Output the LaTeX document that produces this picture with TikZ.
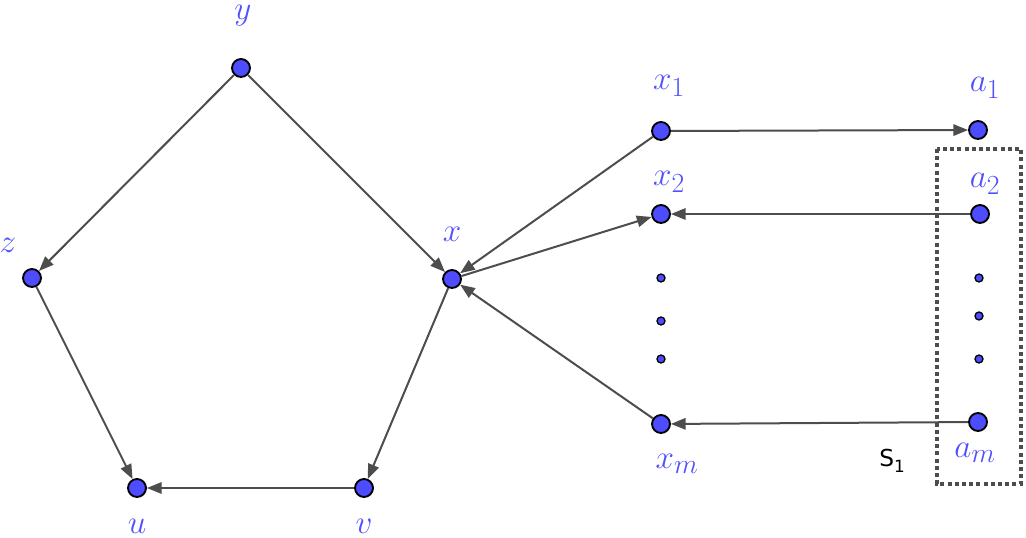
\documentclass[tikz,border=0pt]{standalone}
\usepackage{fontspec}
\newfontfamily\sonefont{DejaVu Sans}
\usetikzlibrary{arrows.meta}
\definecolor{vblue}{RGB}{77,77,255}
\definecolor{lblue}{RGB}{80,80,255}
\definecolor{edgegray}{RGB}{77,77,77}
\tikzset{
  vert/.style={circle,draw=black,fill=vblue,line width=1.4pt,minimum size=13.5pt,inner sep=0pt},
  smalldot/.style={circle,draw=black,fill=vblue,line width=1pt,minimum size=6pt,inner sep=0pt},
  lab/.style={text=lblue,font=\fontsize{24.88}{30}\selectfont,inner sep=0pt},
  edge/.style={draw=edgegray,line width=1.5pt,-{Triangle[length=11pt,width=8.5pt]}},
  box/.style={draw=edgegray,line width=3pt,dash pattern=on 3pt off 2.4pt}
}
\begin{document}
\begin{tikzpicture}[x=0.75pt,y=-0.75pt]
\useasboundingbox (0,0) rectangle (1026,538);
% dotted box
\draw[box] (937,149) rectangle (1021,484);
% vertices
\node[vert] (y) at (241,68) {};
\node[vert] (z) at (32,278) {};
\node[vert] (x) at (452,279) {};
\node[vert] (u) at (137,488) {};
\node[vert] (v) at (364,488) {};
\node[vert] (x1) at (661,131) {};
\node[vert] (x2) at (661,214) {};
\node[vert] (xm) at (661,424) {};
\node[vert] (a1) at (978,130) {};
\node[vert] (a2) at (980,214) {};
\node[vert] (am) at (978,422) {};
\node[smalldot] (d1) at (661,278) {};
\node[smalldot] (d2) at (661,321) {};
\node[smalldot] (d3) at (661,359) {};
\node[smalldot] (e1) at (979,278) {};
\node[smalldot] (e2) at (979,316) {};
\node[smalldot] (e3) at (979,359) {};
% labels
\node[lab] (ly) at (243,16) {$y$};
\node[lab] (lz) at (8,245) {$z$};
\node[lab] (lx) at (452,234) {$x$};
\node[lab] (lu) at (137,526) {$u$};
\node[lab] (lv) at (364,526) {$v$};
\node[lab] (lx1) at (669,86) {$x_1$};
\node[lab] (lx2) at (669,182) {$x_2$};
\node[lab] (lxm) at (677,464) {$x_m$};
\node[lab] (la1) at (985,88) {$a_1$};
\node[lab] (la2) at (985,184) {$a_2$};
\node[lab] (lam) at (975,453) {$a_m$};
\node[inner sep=0pt] (s1) at (892,461) {\scalebox{1.75}{\sonefont S\raisebox{-2.6pt}{\scalebox{0.72}{1}}}};
% edges
\draw[edge] (y) -- (z);
\draw[edge] (y) -- (x);
\draw[edge] (z) -- (u);
\draw[edge] (v) -- (u);
\draw[edge] (x) -- (v);
\draw[edge] (x1) -- (x);
\draw[edge] (x) -- (x2);
\draw[edge] (xm) -- (x);
\draw[edge] (x1) -- (a1);
\draw[edge] (a2) -- (x2);
\draw[edge] (am) -- (xm);
\end{tikzpicture}
\end{document}
